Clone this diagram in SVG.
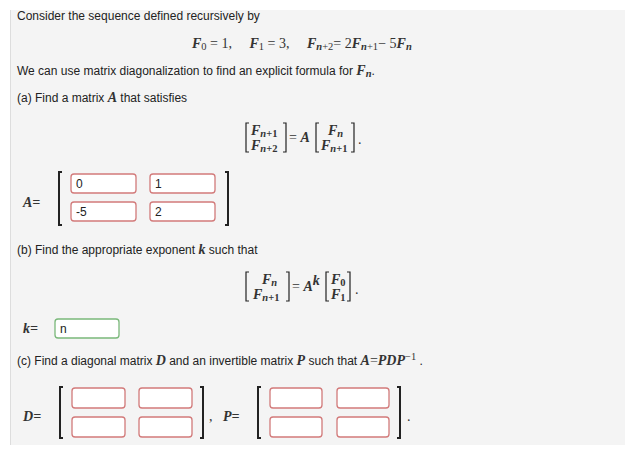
<svg xmlns="http://www.w3.org/2000/svg" width="625" height="458" viewBox="0 0 625 458">
<style>
.t{font-family:"Liberation Sans",Arial,sans-serif;font-size:12px;fill:#222}
.m{font-family:"Liberation Serif","Times New Roman",serif;font-style:italic;font-weight:bold;font-size:14px;fill:#333}
.r{font-family:"Liberation Serif","Times New Roman",serif;font-size:14px;fill:#333}
.s{font-size:10.5px}
.n{font-style:normal}
.br{fill:none;stroke:#222;stroke-width:1.2}
.bb{fill:none;stroke:#222;stroke-width:2}
.box{fill:#fff;stroke:#d27a7a;stroke-width:1.3}
.gbox{fill:#fff;stroke:#7ab87a;stroke-width:1.3}
.v{font-family:"Liberation Sans",Arial,sans-serif;font-size:12px;fill:#222}
</style>
<rect x="10" y="10" width="615" height="435" fill="#f4f4f4"/>
<line x1="10.5" y1="10" x2="10.5" y2="445" stroke="#ddd"/>
<g id="text">
<text class="t" x="17" y="20">Consider the sequence defined recursively by</text>
<text class="r" x="192" y="48" xml:space="preserve"><tspan class="m">F</tspan><tspan class="s" dy="2">0</tspan><tspan dy="-2"> = 1,     </tspan><tspan class="m">F</tspan><tspan class="s" dy="2">1</tspan><tspan dy="-2"> = 3,     </tspan><tspan class="m">F</tspan><tspan class="s m" dy="2">n</tspan><tspan class="s" >+2</tspan><tspan dy="-2">= 2</tspan><tspan class="m">F</tspan><tspan class="s m" dy="2">n</tspan><tspan class="s">+1</tspan><tspan dy="-2">− 5</tspan><tspan class="m">F</tspan><tspan class="s m" dy="2">n</tspan></text>
<text class="t" x="17" y="75">We can use matrix diagonalization to find an explicit formula for <tspan class="m">F</tspan><tspan class="m s" dy="2">n</tspan><tspan dy="-2">.</tspan></text>
<text class="t" x="17" y="102">(a) Find a matrix <tspan class="m">A</tspan> that satisfies</text>
<text class="t" x="17" y="254">(b) Find the appropriate exponent <tspan class="m">k</tspan> such that</text>
<text class="t" x="17" y="365">(c) Find a diagonal matrix <tspan class="m">D</tspan> and an invertible matrix <tspan class="m">P</tspan> such that <tspan class="m">A</tspan><tspan class="r">=</tspan><tspan class="m">PDP</tspan><tspan class="r s" dy="-5">−1</tspan><tspan dy="5">   .</tspan></text>
</g>
<g id="eqA">
<path class="br" d="M249,123 h-3 v29 h3 M283,123 h3 v29 h-3 M319,123 h-3 v29 h3 M351,123 h3 v29 h-3"/>
<text class="m" x="251" y="135">F<tspan class="s" dy="2">n</tspan><tspan class="s n">+1</tspan></text>
<text class="m" x="251" y="150">F<tspan class="s" dy="2">n</tspan><tspan class="s n">+2</tspan></text>
<text class="r" x="289" y="142">= <tspan class="m">A</tspan></text>
<text class="m" x="328" y="135">F<tspan class="s" dy="2">n</tspan></text>
<text class="m" x="321" y="150">F<tspan class="s" dy="2">n</tspan><tspan class="s n">+1</tspan></text>
<text class="r" x="358" y="144">.</text>
</g>
<g id="matA">
<text class="m" x="23" y="207">A<tspan class="r">=</tspan></text>
<path class="bb" d="M62,172 h-3 v53 h3 M225,172 h3 v53 h-3"/>
<rect class="box" x="71" y="174" width="65" height="19" rx="3"/>
<rect class="box" x="150" y="174" width="65" height="19" rx="3"/>
<rect class="box" x="71" y="202" width="65" height="19" rx="3"/>
<rect class="box" x="150" y="202" width="65" height="19" rx="3"/>
<text class="v" x="76" y="188">0</text>
<text class="v" x="155" y="188">1</text>
<text class="v" x="76" y="216">-5</text>
<text class="v" x="155" y="216">2</text>
</g>
<g id="eqB">
<path class="br" d="M249,272 h-3 v29 h3 M286,272 h3 v29 h-3 M329,272 h-3 v29 h3 M347,272 h3 v29 h-3"/>
<text class="m" x="262" y="284">F<tspan class="s" dy="2">n</tspan></text>
<text class="m" x="253" y="299">F<tspan class="s" dy="2">n</tspan><tspan class="s n">+1</tspan></text>
<text class="r" x="292" y="291">= <tspan class="m">A</tspan><tspan class="m" dy="-6">k</tspan></text>
<text class="m" x="331" y="284">F<tspan class="s n" dy="2">0</tspan></text>
<text class="m" x="331" y="299">F<tspan class="s n" dy="2">1</tspan></text>
<text class="r" x="355" y="294">.</text>
</g>
<g id="k">
<text class="m" x="23" y="333">k<tspan class="r">=</tspan></text>
<rect class="gbox" x="55" y="319" width="64" height="19" rx="3"/>
<text class="v" x="60" y="333">n</text>
</g>
<g id="matD">
<text class="m" x="23" y="421">D<tspan class="r">=</tspan></text>
<path class="bb" d="M63,387 h-3 v51 h3 M200,387 h3 v51 h-3"/>
<rect class="box" x="72" y="388" width="53" height="20" rx="3"/>
<rect class="box" x="139" y="388" width="53" height="20" rx="3"/>
<rect class="box" x="72" y="417" width="53" height="20" rx="3"/>
<rect class="box" x="139" y="417" width="53" height="20" rx="3"/>
<text class="r" x="209" y="421">,</text>
</g>
<g id="matP">
<text class="m" x="223" y="421">P<tspan class="r">=</tspan></text>
<path class="bb" d="M261,387 h-3 v51 h3 M397,387 h3 v51 h-3"/>
<rect class="box" x="270" y="388" width="52" height="20" rx="3"/>
<rect class="box" x="337" y="388" width="52" height="20" rx="3"/>
<rect class="box" x="270" y="417" width="52" height="20" rx="3"/>
<rect class="box" x="337" y="417" width="52" height="20" rx="3"/>
<text class="r" x="407" y="421">.</text>
</g>
</svg>
